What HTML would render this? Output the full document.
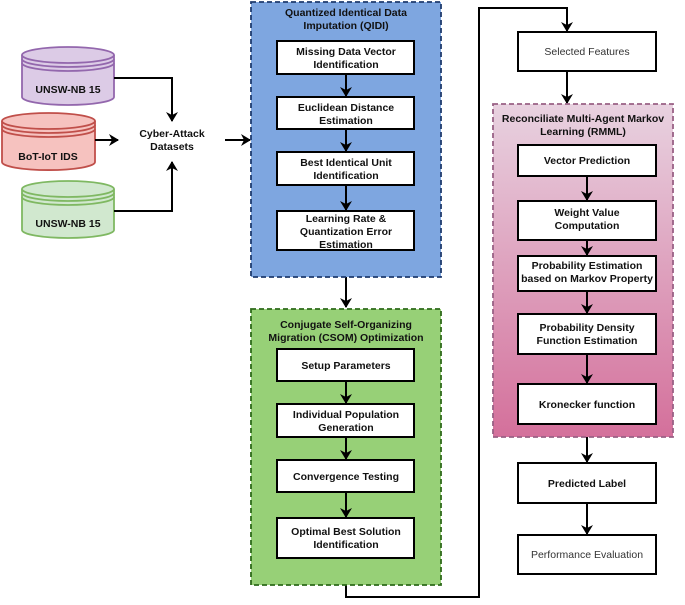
<!DOCTYPE html>
<html><head><meta charset="utf-8"><style>
body{margin:0;background:#fff}
svg text{font-family:"Liberation Sans",Arial,sans-serif;font-size:10.5px;font-weight:bold;fill:#111;text-anchor:middle}
</style></head><body>
<svg width="685" height="600" viewBox="0 0 685 600" xmlns="http://www.w3.org/2000/svg">
<defs>
<marker id="a" markerWidth="12" markerHeight="12" refX="9" refY="6" orient="auto" markerUnits="userSpaceOnUse"><path d="M0,0 L10,6 L0,12 L3,6 Z" fill="#000"/></marker>
<linearGradient id="g" x1="0" y1="0" x2="0" y2="1"><stop offset="0" stop-color="#e8d2e0"/><stop offset="1" stop-color="#d4709b"/></linearGradient>
</defs>
<g stroke-width="1.8">
<g fill="#dccbe6" stroke="#9367ad">
<path d="M22,55 L22,97 A46,8 0 0 0 114,97 L114,55"/><ellipse cx="68" cy="55" rx="46" ry="8"/>
<path d="M22,59 A46,8 0 0 0 114,59 M22,63 A46,8 0 0 0 114,63" fill="none"/></g>
<g fill="#f6c2bf" stroke="#c04f4a">
<path d="M2,121 L2,162 A46,8 0 0 0 95,162 L95,121"/><ellipse cx="48.5" cy="121" rx="46.5" ry="8"/>
<path d="M2,125 A46.5,8 0 0 0 95,125 M2,129 A46.5,8 0 0 0 95,129" fill="none"/></g>
<g fill="#d1e8cf" stroke="#7fb862">
<path d="M22,189 L22,230 A46,8 0 0 0 114,230 L114,189"/><ellipse cx="68" cy="189" rx="46" ry="8"/>
<path d="M22,193 A46,8 0 0 0 114,193 M22,197 A46,8 0 0 0 114,197" fill="none"/></g>
</g>
<text x="68" y="93">UNSW-NB 15</text>
<text x="48" y="160">BoT-IoT IDS</text>
<text x="68" y="227">UNSW-NB 15</text>
<text x="172" y="137">Cyber-Attack</text>
<text x="172" y="150">Datasets</text>
<g stroke="#000" stroke-width="2" fill="none" marker-end="url(#a)">
<path d="M114,78 L172,78 L172,121"/>
<path d="M95,140 L118,140"/>
<path d="M114,211 L172,211 L172,162"/>
<path d="M225,140 L250,140"/>
<path d="M346,277 L346,307"/>
<path d="M346,585 L346,597 L479,597 L479,8 L567,8 L567,31"/>
<path d="M567,71 L567,103"/>
<path d="M587,437 L587,462"/>
</g>
<rect x="251" y="2" width="190" height="275" fill="#7ea6e0" stroke="#1f3b6e" stroke-width="1.8" stroke-dasharray="5,3"/>
<rect x="251" y="309" width="190" height="276" fill="#97d077" stroke="#2d6a1a" stroke-width="1.8" stroke-dasharray="5,3"/>
<rect x="493" y="104" width="180" height="333" fill="url(#g)" stroke="#996185" stroke-width="1.8" stroke-dasharray="5,3"/>
<text x="346" y="16">Quantized Identical Data</text>
<text x="346" y="29">Imputation (QIDI)</text>
<text x="346" y="328">Conjugate Self-Organizing</text>
<text x="346" y="341">Migration (CSOM) Optimization</text>
<text x="583" y="122">Reconciliate Multi-Agent Markov</text>
<text x="583" y="135">Learning (RMML)</text>
<g fill="#fff" stroke="#000" stroke-width="2">
<rect x="277" y="41" width="137" height="33"/><rect x="277" y="97" width="137" height="32"/>
<rect x="277" y="152" width="137" height="33"/><rect x="277" y="211" width="137" height="39"/>
<rect x="277" y="349" width="137" height="32"/><rect x="277" y="404" width="137" height="33"/>
<rect x="277" y="460" width="137" height="32"/><rect x="277" y="518" width="137" height="40"/>
<rect x="518" y="32" width="138" height="39"/>
<rect x="518" y="145" width="138" height="31"/><rect x="518" y="201" width="138" height="39"/>
<rect x="518" y="256" width="138" height="35"/><rect x="518" y="314" width="138" height="40"/>
<rect x="518" y="384" width="138" height="40"/>
<rect x="518" y="463" width="138" height="40"/><rect x="518" y="535" width="138" height="39"/>
</g>
<g stroke="#000" stroke-width="2" fill="none" marker-end="url(#a)">
<path d="M346,74 L346,96"/><path d="M346,129 L346,151"/><path d="M346,185 L346,210"/>
<path d="M346,381 L346,403"/><path d="M346,437 L346,459"/><path d="M346,492 L346,517"/>
<path d="M587,176 L587,200"/><path d="M587,240 L587,255"/><path d="M587,291 L587,313"/>
<path d="M587,354 L587,383"/><path d="M587,503 L587,534"/>
</g>
<text x="346" y="55">Missing Data Vector</text><text x="346" y="68">Identification</text>
<text x="346" y="111">Euclidean Distance</text><text x="346" y="124">Estimation</text>
<text x="346" y="166">Best Identical Unit</text><text x="346" y="179">Identification</text>
<text x="346" y="222">Learning Rate &amp;</text><text x="346" y="235">Quantization Error</text><text x="346" y="248">Estimation</text>
<text x="346" y="369">Setup Parameters</text>
<text x="346" y="418">Individual Population</text><text x="346" y="431">Generation</text>
<text x="346" y="480">Convergence Testing</text>
<text x="346" y="535">Optimal Best Solution</text><text x="346" y="548">Identification</text>
<text x="587" y="55" style="font-weight:normal;fill:#333">Selected Features</text>
<text x="587" y="164">Vector Prediction</text>
<text x="587" y="216">Weight Value</text><text x="587" y="229">Computation</text>
<text x="587" y="269">Probability Estimation</text><text x="587" y="282">based on Markov Property</text>
<text x="587" y="331">Probability Density</text><text x="587" y="344">Function Estimation</text>
<text x="587" y="408">Kronecker function</text>
<text x="587" y="487">Predicted Label</text>
<text x="587" y="558" style="font-weight:normal;fill:#333">Performance Evaluation</text>
</svg>
</body></html>
